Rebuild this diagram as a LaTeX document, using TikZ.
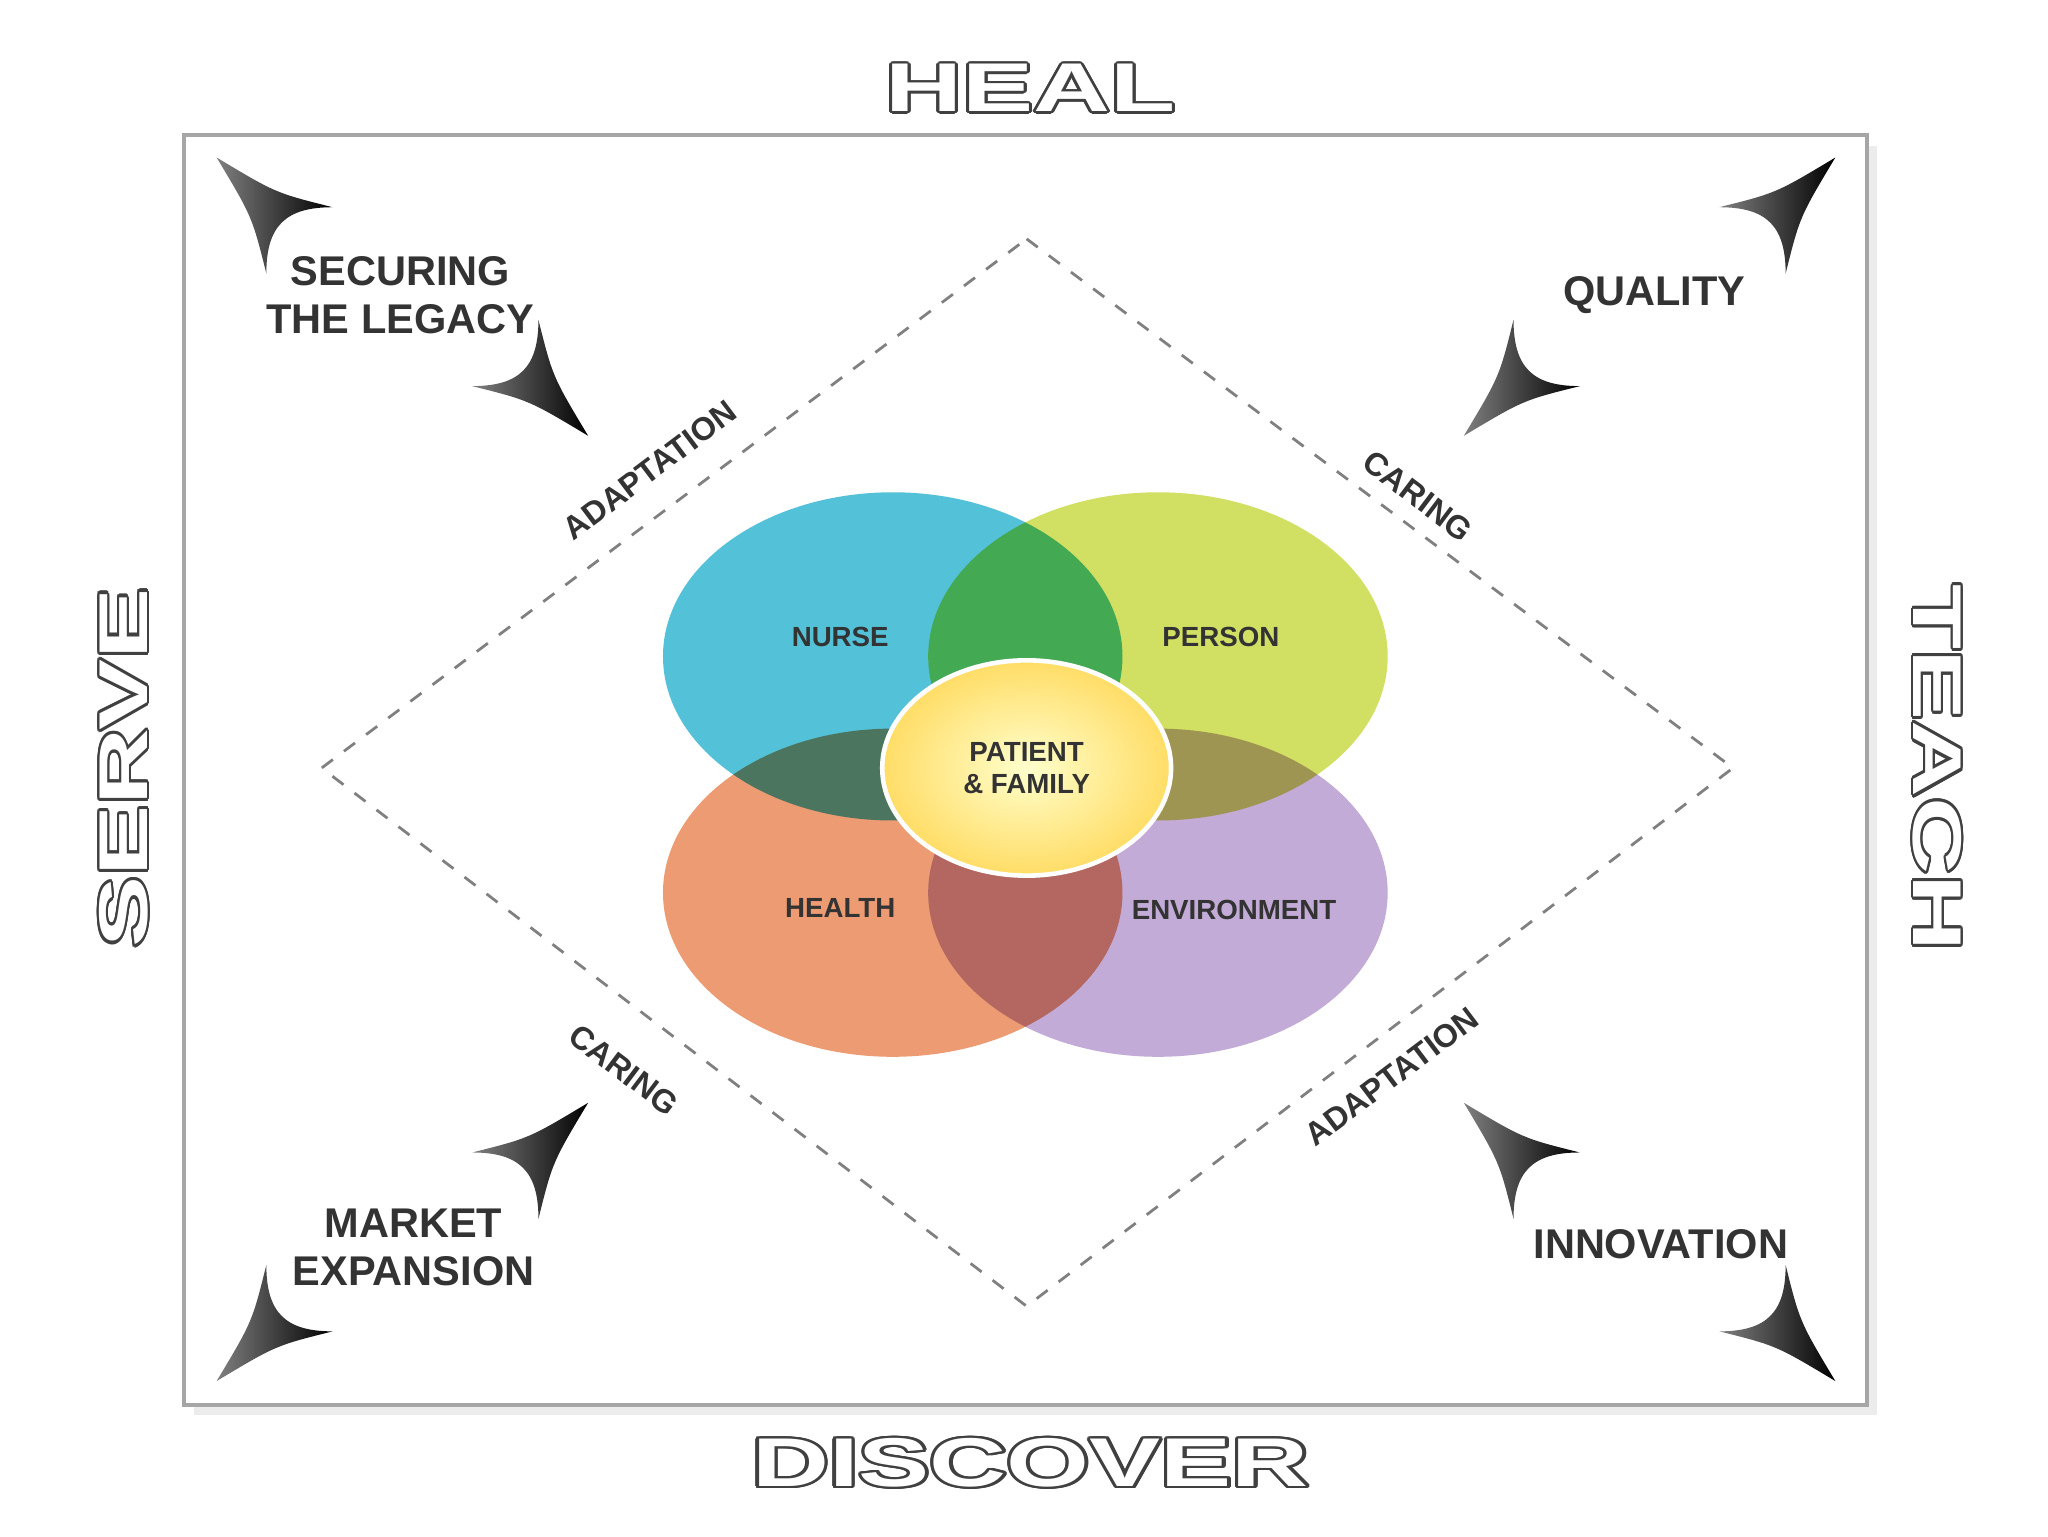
\documentclass[tikz,border=0pt]{standalone}
\usepackage{fontspec}
\setmainfont{Liberation Sans}
\usepackage[copies]{contour}
\contourlength{0.7pt}
\usetikzlibrary{shapes.geometric}
\tikzset{
  bigword/.style={font=\fontsize{22}{26}\selectfont\bfseries, text=white},
  cornertext/.style={font=\fontsize{9}{10.5}\selectfont\bfseries, text=black!80, align=center},
  edgetext/.style={font=\fontsize{7}{8}\selectfont\bfseries, text=black!80},
  circtext/.style={font=\fontsize{6}{7}\selectfont\bfseries, text=black!80, align=center},
  petal/.style={ellipse, minimum width=3.5cm, minimum height=2.5cm, fill opacity=0.8, draw=none},
}
\newcommand{\flatword}[1]{\scalebox{1.05}[0.68]{\contour{black!75}{#1}}}
\newcommand{\pointer}[3]{%
  \begin{scope}[shift={(#1,#2)}, rotate=#3, scale=0.85]
    \shade[left color=black!50, right color=black]
      (-1.05,0.42) .. controls (-0.6,0.15) .. (0,0)
      .. controls (-0.6,-0.15) .. (-1.05,-0.42)
      .. controls (-0.75,-0.12) and (-0.75,0.12) .. cycle;
  \end{scope}}
\begin{document}
\begin{tikzpicture}
  \useasboundingbox (0,0) rectangle (15.6,11.7);
  \fill[gray!15] (1.48,0.92) rectangle (14.3,10.59);
  \draw[fill=white, draw=gray!70, line width=0.8pt] (1.40,1.00) rectangle (14.22,10.67);

  % corner words
  \node[bigword] (heal) at (7.85,11.02) {\flatword{HEAL}};
  \node[bigword] (discover) at (7.85,0.55) {\flatword{DISCOVER}};
  \node[bigword, rotate=90] (serve) at (0.95,5.85) {\flatword{SERVE}};
  \node[bigword, rotate=-90] (teach) at (14.75,5.85) {\flatword{TEACH}};

  % dashed diamond
  \coordinate (top) at (7.82,9.88);
  \coordinate (left) at (2.45,5.85);
  \coordinate (right) at (13.2,5.85);
  \coordinate (bottom) at (7.82,1.75);
  \draw[dashed, gray, line width=0.6pt] (top) -- (right) -- (bottom) -- (left) -- cycle;

  \node[edgetext, rotate=37] (adapt1) at (4.95,8.12) {ADAPTATION};
  \node[edgetext, rotate=-37] (caring1) at (10.8,7.92) {CARING};
  \node[edgetext, rotate=-37] (caring2) at (4.75,3.55) {CARING};
  \node[edgetext, rotate=37] (adapt2) at (10.6,3.5) {ADAPTATION};

  % venn
  \begin{scope}[blend mode=multiply]
    \node[petal, fill={rgb,255:red,40;green,178;blue,205}] (nurse) at (6.8,6.7) {};
    \node[petal, fill={rgb,255:red,198;green,216;blue,60}] (person) at (8.82,6.7) {};
    \node[petal, fill={rgb,255:red,232;green,130;blue,80}] (health) at (6.8,4.9) {};
    \node[petal, fill={rgb,255:red,180;green,150;blue,205}] (environment) at (8.82,4.9) {};
  \end{scope}
  \shade[inner color=yellow!20, outer color=yellow!55!orange!60, draw=white, line width=1pt]
    (7.82,5.85) ellipse (1.1 and 0.82);
  \node[circtext] (nursel) at (6.4,6.85) {NURSE};
  \node[circtext] (personl) at (9.3,6.85) {PERSON};
  \node[circtext] (healthl) at (6.4,4.78) {HEALTH};
  \node[circtext] (envl) at (9.4,4.77) {ENVIRONMENT};
  \node[circtext] (patient) at (7.82,5.85) {PATIENT\\\& FAMILY};

  % corner texts
  \node[cornertext] (legacy) at (3.05,9.45) {SECURING\\THE LEGACY};
  \node[cornertext] (quality) at (12.6,9.45) {QUALITY};
  \node[cornertext] (market) at (3.15,2.2) {MARKET\\EXPANSION};
  \node[cornertext] (innovation) at (12.65,2.22) {INNOVATION};

  % arrowheads
  \pointer{1.65}{10.5}{135}
  \pointer{4.48}{8.38}{-45}
  \pointer{13.98}{10.5}{45}
  \pointer{11.15}{8.38}{-135}
  \pointer{1.65}{1.18}{-135}
  \pointer{4.48}{3.3}{45}
  \pointer{13.98}{1.18}{-45}
  \pointer{11.15}{3.3}{135}
\end{tikzpicture}
\end{document}
